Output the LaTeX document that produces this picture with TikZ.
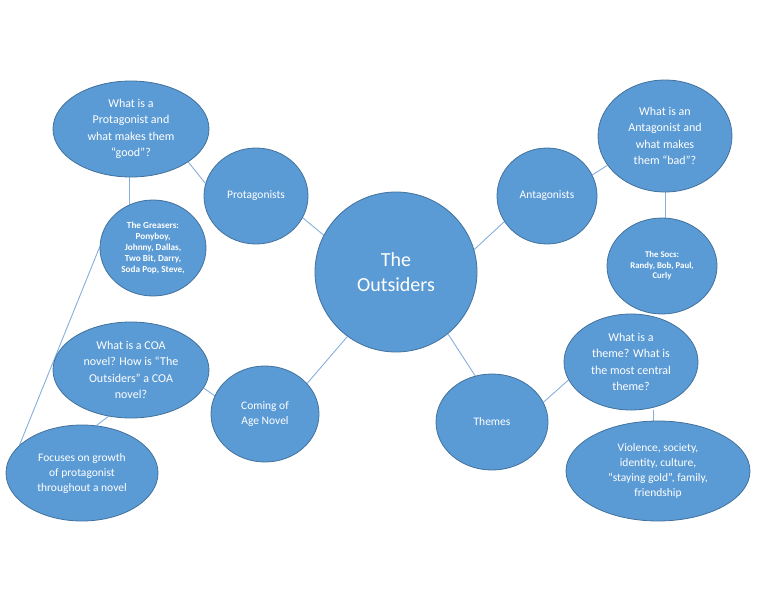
\documentclass[tikz,border=0pt]{standalone}
\usepackage{fontspec}
\setmainfont{Carlito}
\usetikzlibrary{shapes.geometric,backgrounds}
\definecolor{bfill}{HTML}{5B9BD5}
\definecolor{bdraw}{HTML}{41719C}
\definecolor{linkc}{HTML}{86AEDC}
\begin{document}
\begin{tikzpicture}[x=1pt,y=-1pt,
  bub/.style={ellipse, fill=bfill, draw=bdraw, line width=0.8pt, text=white, align=center, inner sep=0pt},
  q/.style={font=\fontsize{12}{16.3}\selectfont},
  lbl/.style={font=\fontsize{11.5}{15}\selectfont},
  sm/.style={font=\fontsize{9.2}{11}\selectfont\bfseries},
  link/.style={draw=linkc, line width=0.9pt}]
\useasboundingbox (0,0) rectangle (768,594);
\node[bub, minimum width=162, minimum height=160, font=\fontsize{20}{25}\selectfont] (out) at (396,272) {The\\Outsiders};
\node[bub, lbl, minimum width=104, minimum height=96] (prot) at (256,196) {Protagonists};
\node[bub, q, minimum width=156, minimum height=96] (protq) at (131,129) {What is a\\Protagonist and\\what makes them\\“good”?};
\node[bub, sm, minimum width=106, minimum height=96] (grease) at (153,248) {The Greasers:\\Ponyboy,\\Johnny, Dallas,\\Two Bit, Darry,\\Soda Pop, Steve,};
\node[bub, lbl, minimum width=100, minimum height=96] (anta) at (547,196) {Antagonists};
\node[bub, q, minimum width=134, minimum height=112] (antq) at (665,136) {What is an\\Antagonist and\\what makes\\them “bad”?};
\node[bub, sm, minimum width=110, minimum height=96, font=\fontsize{8.8}{10.5}\selectfont\bfseries] (socs) at (662,266) {The Socs:\\Randy, Bob, Paul,\\Curly};
\node[bub, q, minimum width=156, minimum height=96] (coaq) at (131,370) {What is a COA\\novel? How is “The\\Outsiders” a COA\\novel?};
\node[bub, lbl, minimum width=108, minimum height=96] (coming) at (265,414) {Coming of\\Age Novel};
\node[bub, lbl, minimum width=152, minimum height=96] (focus) at (82,473) {Focuses on growth\\of protagonist\\throughout a novel};
\node[bub, lbl, minimum width=112, minimum height=96] (themes) at (492,422) {Themes};
\node[bub, q, minimum width=134, minimum height=96] (themeq) at (631,362) {What is a\\theme? What is\\the most central\\theme?};
\node[bub, lbl, minimum width=184, minimum height=100] (viol) at (658,471) {Violence, society,\\identity, culture,\\“staying gold”, family,\\friendship};
\begin{scope}[on background layer]
\draw[link] (protq.-30) -- (prot.166);
\draw[link] (prot.-25) -- (out.153);
\draw[link] ([xshift=-2pt]protq.south) -- ([xshift=-2pt]protq.south |- grease.center);
\draw[link] (grease.179) -- (focus.156);
\draw[link] (coaq.-14) -- (coming.160);
\draw[link] (coaq.-116) -- (focus.73);
\draw[link] (coming.36) -- (out.233);
\draw[link] (out.16) -- (anta.211);
\draw[link] (anta.25) -- (antq.207);
\draw[link] (antq.south) -- (antq.south |- socs.center);
\draw[link] (out.-50) -- (themes.110);
\draw[link] (themes.21) -- (themeq.196);
\draw[link] ([xshift=22pt]themeq.south) -- ([xshift=22pt]themeq.south |- viol.center);
\end{scope}
\end{tikzpicture}
\end{document}
